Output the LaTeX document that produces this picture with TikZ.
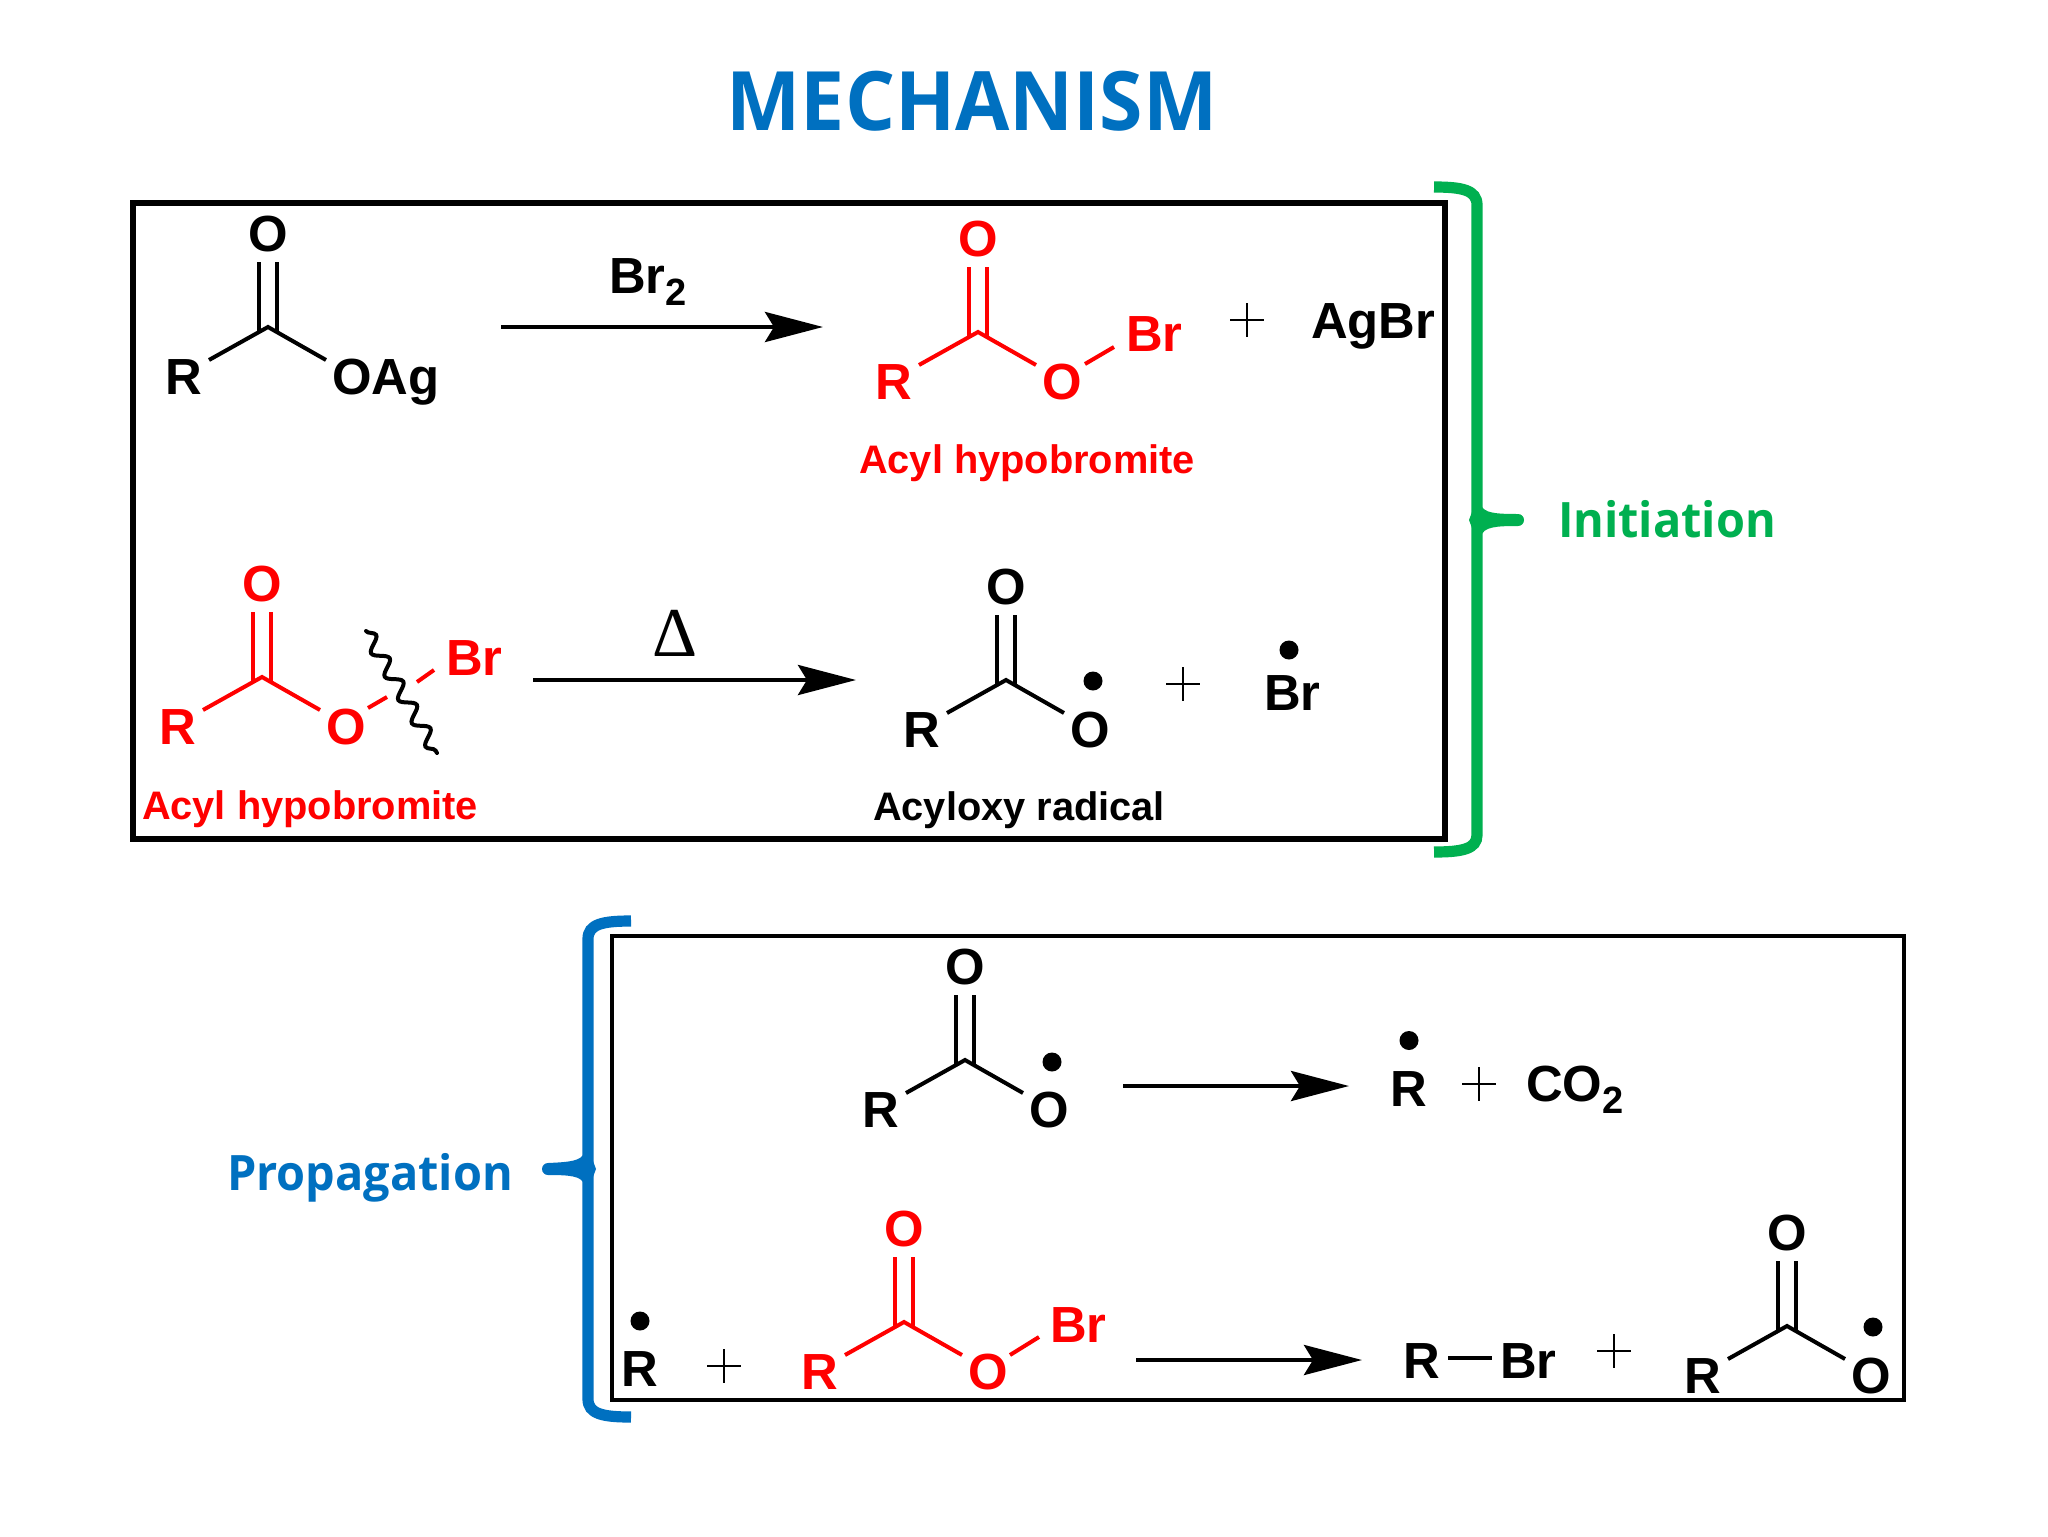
\documentclass[tikz,border=0pt]{standalone}
\usepackage{fontspec}
\setmainfont{Liberation Sans}
\newfontfamily\titlefont[FakeStretch=0.96]{Open Sans}
\newfontfamily\deltafont{Liberation Serif}
\usetikzlibrary{arrows.meta,decorations.pathmorphing}
\definecolor{mblue}{HTML}{0070C0}
\definecolor{mgreen}{HTML}{00B050}
\definecolor{mred}{HTML}{FF0000}
\newcommand{\chemsub}[1]{\raisebox{-6pt}{\fontsize{19}{19}\selectfont #1}}
\tikzset{
  atom/.style={inner sep=0pt,outer sep=0pt,font=\fontsize{25.4}{26}\selectfont\bfseries},
  caption/.style={inner sep=0pt,outer sep=0pt,font=\fontsize{19.9}{20}\selectfont\bfseries},
  heading/.style={inner sep=0pt,outer sep=0pt,font=\titlefont\fontsize{41}{41}\selectfont\bfseries},
  side/.style={inner sep=0pt,outer sep=0pt,font=\titlefont\fontsize{24.4}{24.5}\selectfont\bfseries},
  bond/.style={line width=2pt},
  rxn/.style={line width=2.2pt,-{Stealth[length=29pt,width=15pt,inset=4.5pt]}},
  plusline/.style={line width=1.4pt},
  radical/.style={circle,fill=black,minimum size=9.5pt,inner sep=0pt,outer sep=0pt},
  frame/.style={draw=black},
  brace/.style={line width=5.6pt},
}
% name, colour, x, y of the carbonyl carbon, right-hand label
\newcommand{\carboxyl}[5]{%
  \coordinate (#1c) at (#3,#4);
  \coordinate (#1d1) at (#3-9,#4+5);
  \coordinate (#1d2) at (#3-9,#4-65);
  \coordinate (#1d3) at (#3+9,#4+5);
  \coordinate (#1d4) at (#3+9,#4-65);
  \coordinate (#1re) at (#3-59,#4+33);
  \coordinate (#1oe) at (#3+58,#4+33);
  \node[atom,text=#2,anchor=base] (#1o) at (#3,#4-76) {O};
  \node[atom,text=#2,anchor=base] (#1r) at (#3-84,#4+67) {R};
  \node[atom,text=#2,anchor=base west] (#1x) at (#3+64,#4+67) {#5};
  \draw[bond,#2] (#1d1) -- (#1d2);
  \draw[bond,#2] (#1d3) -- (#1d4);
  \draw[bond,#2] (#1re) -- (#1c) -- (#1oe);
}
\newcommand{\plussign}[3]{%
  \coordinate (#1l) at (#2-17,#3);
  \coordinate (#1r) at (#2+17,#3);
  \coordinate (#1t) at (#2,#3-17);
  \coordinate (#1b) at (#2,#3+17);
  \draw[plusline] (#1l) -- (#1r);
  \draw[plusline] (#1t) -- (#1b);
}
\begin{document}
\begin{tikzpicture}[x=0.5pt,y=-0.5pt]
\useasboundingbox (0,0) rectangle (2048,1536);
\fill[white] (0,0) rectangle (2048,1536);

\node[heading,text=mblue,anchor=base] (title) at (972,131) {MECHANISM};

% frames
\draw[frame,line width=3pt] (133,202.5) rectangle (1445,839);
\draw[frame,line width=2.4pt] (612,936) rectangle (1904,1400);

% initiation brace
\coordinate (g1) at (1434,187);
\coordinate (g2) at (1477,205);
\coordinate (g3) at (1477,835);
\coordinate (g4) at (1434,852);
\draw[brace,mgreen] (g1) .. controls (1462,187) and (1477,190) .. (g2) -- (g3) .. controls (1477,849) and (1462,852) .. (g4);
\fill[mgreen] (1481,505) .. controls (1484,513) and (1495,514) .. (1518,514) arc[start angle=-90,end angle=90,radius=6] .. controls (1495,526) and (1484,527) .. (1481,536) -- cycle;
\fill[mgreen] (1472,512) -- (1469,520) -- (1472,528) -- cycle;
\node[side,text=mgreen,anchor=base west] (init) at (1558,537) {Initiation};

% propagation brace
\coordinate (b1) at (631,921);
\coordinate (b2) at (588,939);
\coordinate (b3) at (588,1399);
\coordinate (b4) at (631,1417);
\draw[brace,mblue] (b1) .. controls (603,921) and (588,924) .. (b2) -- (b3) .. controls (588,1414) and (603,1417) .. (b4);
\fill[mblue] (584,1153) .. controls (581,1161) and (570,1162) .. (548,1163) arc[start angle=270,end angle=90,radius=6] .. controls (570,1175) and (581,1176) .. (584,1184) -- cycle;
\fill[mblue] (593,1161) -- (596,1169) -- (593,1177) -- cycle;
\node[side,text=mblue,anchor=base west] (prop) at (227,1190) {Propagation};

% first row
\carboxyl{s}{black}{268}{327}{OAg}
\coordinate (a1s) at (501,327);
\coordinate (a1e) at (823,327);
\draw[rxn] (a1s) -- (a1e);
\node[atom,anchor=base west] (br2) at (609,293) {Br\chemsub{2}};
\carboxyl{h}{mred}{978}{332}{O}
\coordinate (hb1) at (1085,364);
\coordinate (hb2) at (1114,347);
\draw[bond,mred] (hb1) -- (hb2);
\node[atom,text=mred,anchor=base west] (hbr) at (1126,351) {Br};
\plussign{pa}{1247}{320}
\node[atom,anchor=base west] (agbr) at (1311,338) {AgBr};
\node[caption,text=mred,anchor=base west] (capa) at (859,473) {Acyl hypobromite};

% second row
\carboxyl{k}{mred}{262}{677}{O}
\coordinate (kb1) at (368,708);
\coordinate (kb2) at (387,697);
\coordinate (kb3) at (417,682);
\coordinate (kb4) at (434,670);
\draw[bond,mred] (kb1) -- (kb2);
\draw[bond,mred] (kb3) -- (kb4);
\node[atom,text=mred,anchor=base west] (kbr) at (446,675) {Br};
\coordinate (w1) at (366,631);
\coordinate (w2) at (437,753);
\draw[line width=2pt,line cap=round,decorate,decoration={snake,segment length=13.5pt,amplitude=3.4pt}] (w1) -- (w2);
\node[caption,text=mred,anchor=base west] (capb) at (142,819) {Acyl hypobromite};
\node[inner sep=0pt,outer sep=0pt,anchor=base,font=\deltafont\fontsize{35}{35}\selectfont] (delta) at (675,656) {Δ};
\coordinate (a2s) at (533,680);
\coordinate (a2e) at (856,680);
\draw[rxn] (a2s) -- (a2e);
\carboxyl{m}{black}{1006}{680}{O}
\node[radical] (mdot) at (1093,681) {};
\plussign{pb}{1183}{684}
\node[radical] (brdot) at (1289,650) {};
\node[atom,anchor=base west] (mbr) at (1264,710) {Br};
\node[caption,anchor=base west] (capc) at (873,820) {Acyloxy radical};

% third row
\carboxyl{n}{black}{965}{1060}{O}
\node[radical] (ndot) at (1052,1062) {};
\coordinate (a3s) at (1123,1086);
\coordinate (a3e) at (1349,1086);
\draw[rxn] (a3s) -- (a3e);
\node[radical] (rdot) at (1409,1040.5) {};
\node[atom,anchor=base] (rr) at (1409,1106) {R};
\plussign{pc}{1479}{1084}
\node[atom,anchor=base west] (co2) at (1526,1101) {CO\chemsub{2}};

% fourth row
\node[radical] (qdot) at (640,1321) {};
\node[atom,anchor=base] (qr) at (640,1386) {R};
\plussign{pd}{724}{1366}
\carboxyl{t}{mred}{904}{1322}{O}
\coordinate (tb1) at (1010,1355);
\coordinate (tb2) at (1039,1337);
\draw[bond,mred] (tb1) -- (tb2);
\node[atom,text=mred,anchor=base west] (tbr) at (1050,1342) {Br};
\coordinate (a4s) at (1136,1360);
\coordinate (a4e) at (1362,1360);
\draw[rxn] (a4s) -- (a4e);
\node[atom,anchor=base] (ur) at (1422,1378) {R};
\node[atom,anchor=base west] (ubr) at (1500,1378) {Br};
\coordinate (ub1) at (1448,1358);
\coordinate (ub2) at (1492,1358);
\draw[line width=2.2pt] (ub1) -- (ub2);
\plussign{pe}{1614}{1351}
\carboxyl{v}{black}{1787}{1326}{O}
\node[radical] (vdot) at (1873,1327) {};
\end{tikzpicture}
\end{document}
